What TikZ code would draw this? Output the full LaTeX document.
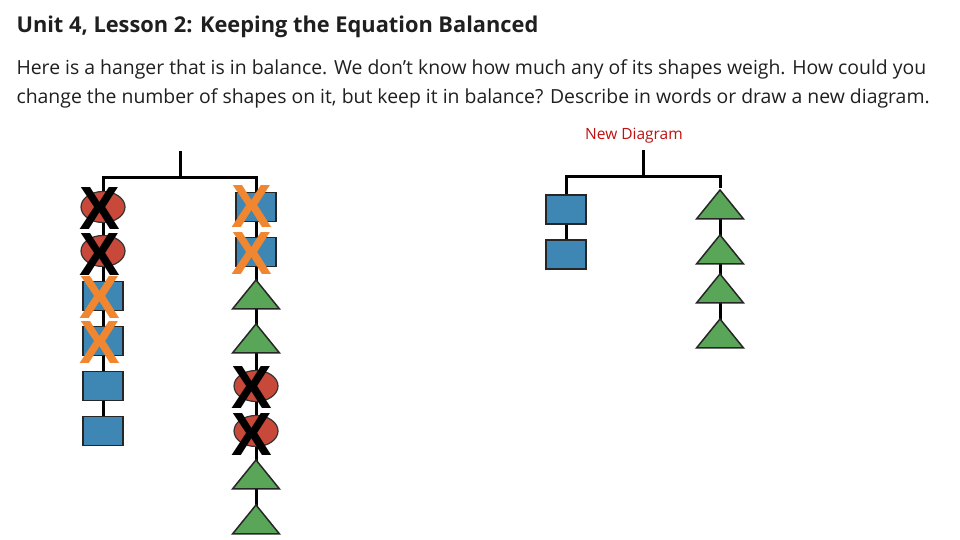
\documentclass[tikz,border=0pt]{standalone}
\usepackage{fontspec}
\setmainfont{Open Sans}
\newfontfamily\markfont{Liberation Sans}
\usetikzlibrary{shapes.geometric,backgrounds}
\definecolor{pesared}{RGB}{200,72,58}
\definecolor{pesablue}{RGB}{62,134,180}
\definecolor{pesagreen}{RGB}{90,166,88}
\definecolor{markorange}{RGB}{240,134,48}
\definecolor{titlered}{RGB}{192,16,16}
\begin{document}
\begin{tikzpicture}[x=1pt,y=-1pt,
    cuerda/.style={line width=3pt},
    circulo/.style={ellipse,draw=black!80,line width=1.2pt,fill=pesared,minimum width=44pt,minimum height=31pt,inner sep=0pt},
    cuadro/.style={rectangle,draw=black!85,line width=1.5pt,fill=pesablue,minimum width=40pt,minimum height=29pt,inner sep=0pt},
    triangulo/.style={isosceles triangle,isosceles triangle stretches,shape border rotate=90,draw=black!85,line width=1.5pt,fill=pesagreen,minimum width=47pt,minimum height=29pt,inner sep=0pt,anchor=apex},
    cruz/.style={text=#1,font=\markfont\bfseries\fontsize{61}{61}\selectfont,inner sep=0pt}]
    \useasboundingbox (0,0) rectangle (960,540);
    % Textos
    \node[anchor=base west,text=black!88,font=\bfseries\fontsize{21.8}{26}\selectfont] (titulo) at (13,32.3) {Unit 4, Lesson 2: Keeping the Equation Balanced};
    \node[anchor=base west,text=black!88,font=\fontsize{19.4}{22}\selectfont] (linea1) at (13,75) {Here is a hanger that is in balance. We don’t know how much any of its shapes weigh. How could you};
    \node[anchor=base west,text=black!88,font=\fontsize{19.4}{22}\selectfont] (linea2) at (13,103.3) {change the number of shapes on it, but keep it in balance? Describe in words or draw a new diagram.};
    \node[anchor=base,text=titlered,font=\fontsize{15.5}{17}\selectfont] (nuevo) at (634,140) {New Diagram};
    % Colgador original, lado izquierdo
    \node[circulo] (l1) at (103,207) {};
    \node[circulo] (l2) at (103,251) {};
    \node[cuadro] (l3) at (103,296) {};
    \node[cuadro] (l4) at (103,341) {};
    \node[cuadro] (l5) at (103,386) {};
    \node[cuadro] (l6) at (103,431) {};
    % Colgador original, lado derecho
    \node[cuadro] (r1) at (256,207) {};
    \node[cuadro] (r2) at (256,252) {};
    \node[triangulo] (r3) at (256,278) {};
    \node[triangulo] (r4) at (256,322) {};
    \node[circulo] (r5) at (256,386) {};
    \node[circulo] (r6) at (256,431) {};
    \node[triangulo] (r7) at (256,458) {};
    \node[triangulo] (r8) at (256,503) {};
    \coordinate (barra) at (180,178);
    \coordinate (gancho) at (180,151);
    % Colgador nuevo
    \node[cuadro] (n1) at (566,209.5) {};
    \node[cuadro] (n2) at (566,254.5) {};
    \node[triangulo] (m1) at (720,188) {};
    \node[triangulo] (m2) at (720,233) {};
    \node[triangulo] (m3) at (720,272) {};
    \node[triangulo] (m4) at (720,317) {};
    \coordinate (barran) at (643,177);
    \coordinate (ganchon) at (643,150);
    % Cuerdas
    \begin{scope}[on background layer]
        \draw[cuerda] (l1.center) |- (barra) -| (r1.center);
        \draw[cuerda] (l1.center) -- (l2.center) -- (l3.center) -- (l4.center) -- (l5.center) -- (l6.center);
        \draw[cuerda] (r1.center) -- (r2.center) -- (r3.center) -- (r4.center) -- (r5.center) -- (r6.center) -- (r7.center) -- (r8.center);
        \draw[cuerda] (n1.center) |- (barran) -| (m1.apex);
        \draw[cuerda] (n1.center) -- (n2.center);
        \draw[cuerda] (m1.center) -- (m2.center) -- (m3.center) -- (m4.center);
    \end{scope}
    \draw[cuerda] (barra) -- (gancho);
    \draw[cuerda] (barran) -- (ganchon);
    % Tachaduras
    \node[cruz=black] (x1) at ([xshift=-3pt,yshift=-2pt]l1) {X};
    \node[cruz=black] (x2) at ([xshift=-3pt,yshift=-4pt]l2) {X};
    \node[cruz=markorange] (x3) at ([xshift=-3pt,yshift=-2pt]l3) {X};
    \node[cruz=markorange] (x4) at ([xshift=-3pt,yshift=-2pt]l4) {X};
    \node[cruz=markorange] (x5) at ([xshift=-4pt]r1) {X};
    \node[cruz=markorange] (x6) at ([xshift=-4pt,yshift=-2pt]r2) {X};
    \node[cruz=black] (x7) at ([xshift=-4pt,yshift=-2pt]r5) {X};
    \node[cruz=black] (x8) at ([xshift=-4pt,yshift=-4pt]r6) {X};
\end{tikzpicture}
\end{document}
